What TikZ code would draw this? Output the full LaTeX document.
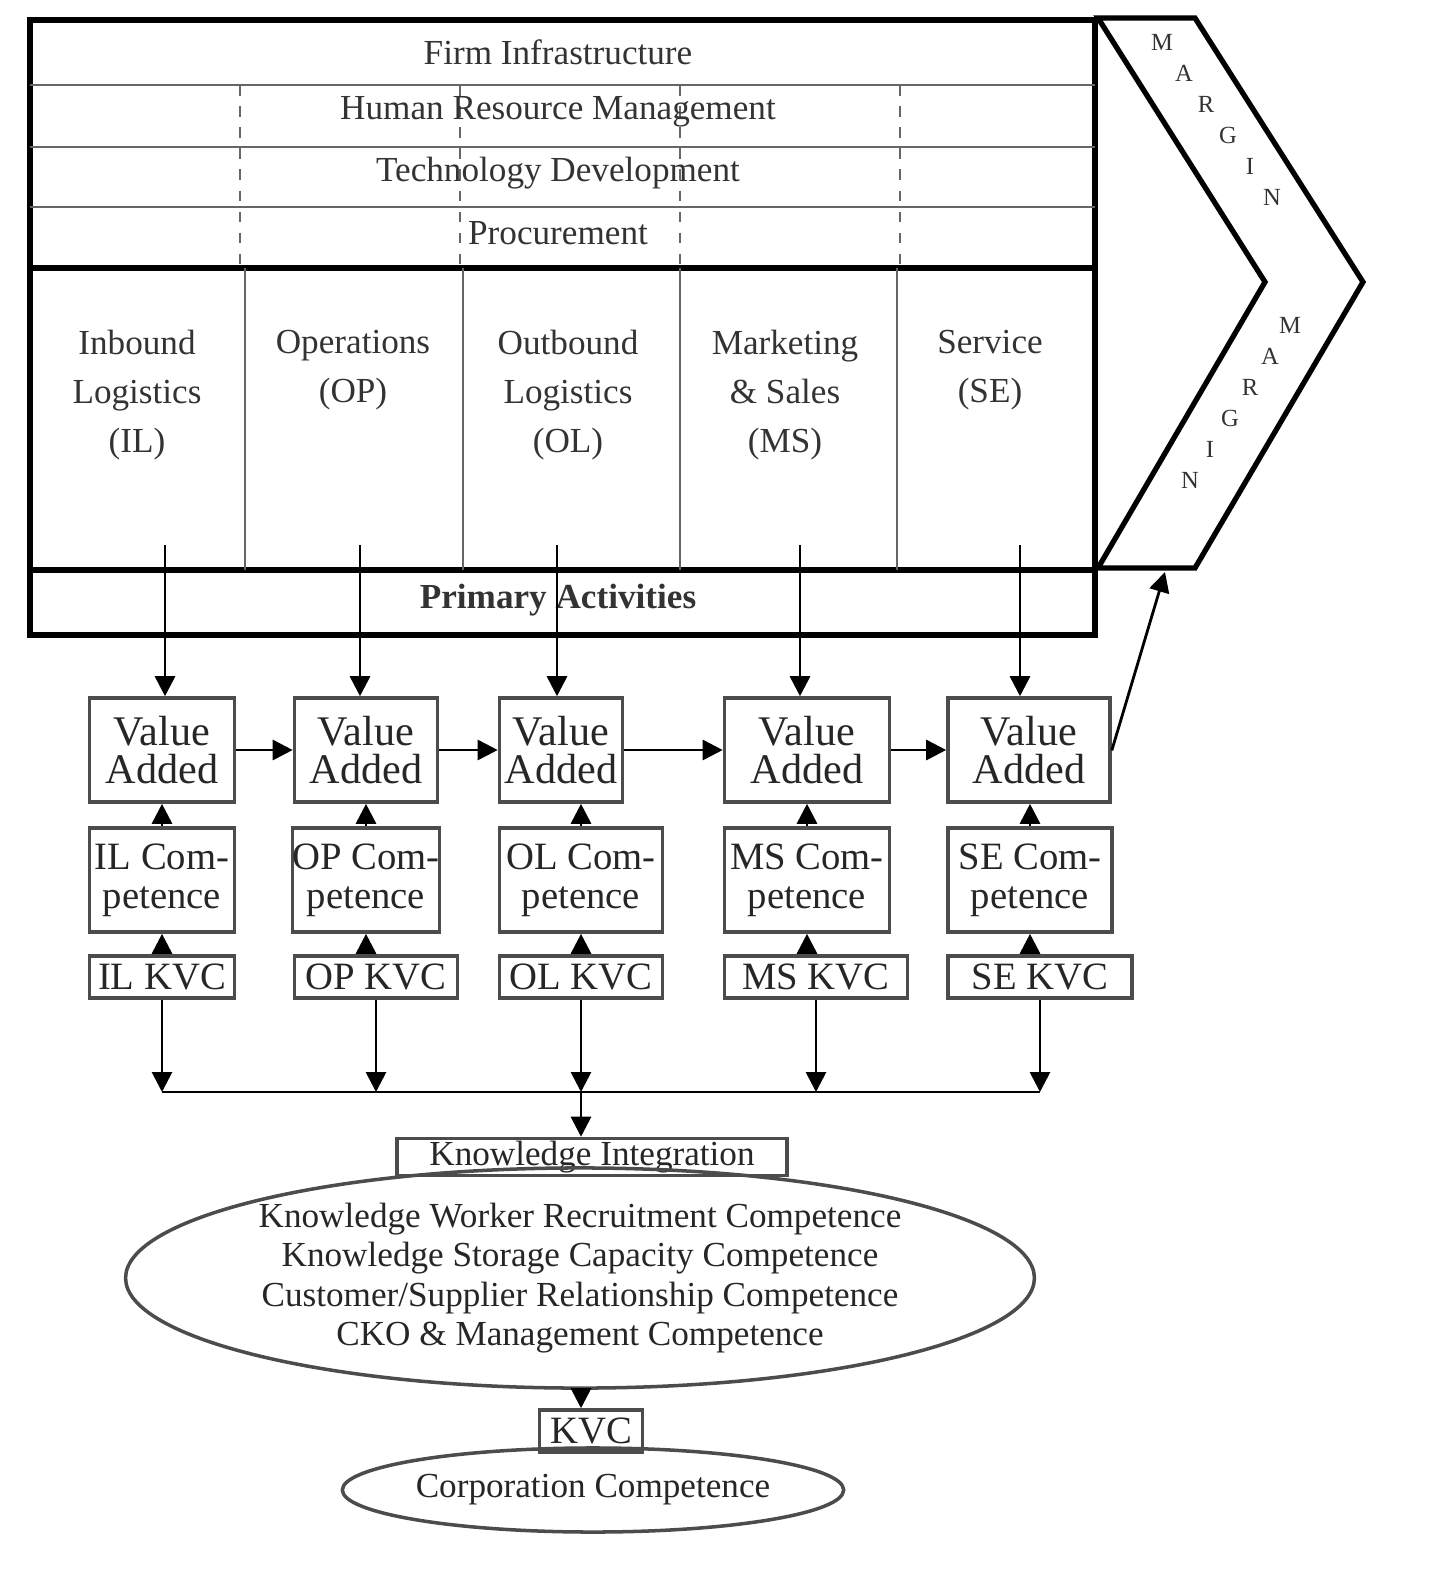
\documentclass[tikz,border=0pt]{standalone}
\usepackage{fontspec}
\setmainfont{Liberation Serif}
\usetikzlibrary{arrows.meta,shapes.geometric,calc}

\tikzset{
	box/.style = {draw = black!70, line width = 1pt, inner sep = 0pt, align = center,
		font = \fontsize{11}{11}\selectfont, text = black!85},
	vabox/.style = {box, font = \fontsize{12}{10.8}\selectfont, minimum height = 1.04cm},
	compbox/.style = {box, minimum height = 1.04cm},
	kvcbox/.style = {box, minimum height = 0.42cm},
	arr/.style = {-{Triangle[length = 2mm, width = 2mm]}, line width = 0.8pt},
	thickline/.style = {line width = 1.5pt},
	thinline/.style = {draw = black!60, line width = 0.8pt},
	lbl/.style = {font = \fontsize{10}{11.5}\selectfont, text = black!80, align = center},
	mletter/.style = {font = \fontsize{7}{7}\selectfont, text = black!80}
}

\begin{document}
\begin{tikzpicture}[x = 0.01cm, y = -0.01cm]
\useasboundingbox (0,0) rectangle (1434,1593);

% Support activities
\draw[thickline] (30,20) rectangle (1095,635);
\foreach \y in {85,147,207} \draw[thinline] (30,\y) -- (1095,\y);
\draw[thickline] (30,268) -- (1095,268);
\draw[thickline] (30,570) -- (1095,570);
\foreach \x in {240,460,680,900} \draw[thinline, dashed] (\x,85) -- (\x,268);
\foreach \x in {245,463,680,897} \draw[thinline] (\x,268) -- (\x,570);

\node[lbl] (FI) at (558,52) {Firm Infrastructure};
\node[lbl] (HR) at (558,112) {Human Resource Management};
\node[lbl] (TD) at (558,173) {Technology Development};
\node[lbl] (PR) at (558,233) {Procurement};

% Primary activities
\node[lbl, font = \fontsize{10}{14}\selectfont] (IL) at (137,395) {Inbound\\Logistics\\(IL)};
\node[lbl, font = \fontsize{10}{14}\selectfont] (OP) at (353,370) {Operations\\(OP)};
\node[lbl, font = \fontsize{10}{14}\selectfont] (OL) at (568,395) {Outbound\\Logistics\\(OL)};
\node[lbl, font = \fontsize{10}{14}\selectfont] (MS) at (785,395) {Marketing\\\& Sales\\(MS)};
\node[lbl, font = \fontsize{10}{14}\selectfont] (SE) at (990,370) {Service\\(SE)};
\node[lbl, font = \bfseries\fontsize{10}{12}\selectfont] (PA) at (558,600) {Primary Activities};

% Margin
\draw[thickline] (1098,18) -- (1195,18) -- (1363,282) -- (1195,568) -- (1098,568)
	-- (1265,282) -- cycle;
\foreach \l [count = \i] in {M,A,R,G,I,N}
	\node[mletter] at ({1162+(\i-1)*22},{42+(\i-1)*31}) {\l};
\foreach \l [count = \i] in {M,A,R,G,I,N}
	\node[mletter] at ({1290-(\i-1)*20},{325+(\i-1)*31}) {\l};

% Value added
\node[vabox, minimum width = 1.45cm] (va1) at (162,750) {Value\\Added};
\node[vabox, minimum width = 1.43cm] (va2) at (366,750) {Value\\Added};
\node[vabox, minimum width = 1.23cm] (va3) at (561,750) {Value\\Added};
\node[vabox, minimum width = 1.65cm] (va4) at (807,750) {Value\\Added};
\node[vabox, minimum width = 1.62cm] (va5) at (1029,750) {Value\\Added};

% Competences
\node[compbox, minimum width = 1.45cm] (c1) at (162,880) {IL Com-\\petence};
\node[compbox, minimum width = 1.43cm] (c2) at (366,880) {OP Com-\\petence};
\node[compbox, minimum width = 1.63cm] (c3) at (581,880) {OL Com-\\petence};
\node[compbox, minimum width = 1.65cm] (c4) at (807,880) {MS Com-\\petence};
\node[compbox, minimum width = 1.64cm] (c5) at (1030,880) {SE Com-\\petence};

% KVCs
\node[kvcbox, minimum width = 1.45cm] (k1) at (162,977) {IL KVC};
\node[kvcbox, minimum width = 1.63cm] (k2) at (376,977) {OP KVC};
\node[kvcbox, minimum width = 1.63cm] (k3) at (581,977) {OL KVC};
\node[kvcbox, minimum width = 1.83cm] (k4) at (816,977) {MS KVC};
\node[kvcbox, minimum width = 1.84cm] (k5) at (1040,977) {SE KVC};

\coordinate (bus) at (0,1092);
\coordinate (mg) at (1165,572);

\node[box, minimum width = 3.9cm, minimum height = 0.37cm, font = \fontsize{10}{10}\selectfont]
	(KI) at (592,1157) {Knowledge Integration};
\node[draw = black!70, line width = 1pt, ellipse, minimum width = 8.8cm, minimum height = 2.2cm,
	align = center, font = \fontsize{10}{11.2}\selectfont, text = black!85, inner sep = 0pt]
	(KE) at (580,1278)
	{Knowledge Worker Recruitment Competence\\Knowledge Storage Capacity Competence\\
	 Customer/Supplier Relationship Competence\\CKO \& Management Competence};
\node[box, minimum width = 1.03cm, minimum height = 0.42cm] (KVC) at (591,1431) {KVC};
\node[draw = black!70, line width = 1pt, ellipse, minimum width = 4.7cm, minimum height = 0.84cm,
	inner sep = 0pt, text = black!85, font = \fontsize{10}{10}\selectfont] (CC) at (593,1490)
	{Corporation Competence};

% arrows from primary activities
\foreach \x/\n in {165/1,360/2,557/3,800/4,1020/5}
	\draw[arr] (\x,545) -- (\x,545 |- va\n.north);
\draw[arr] (va1) -- (va2);
\draw[arr] (va2) -- (va3);
\draw[arr] (va3) -- (va4);
\draw[arr] (va4) -- (va5);
\draw[arr] (va5.east) ++(0,0.4) -- (mg);
\foreach \n in {1,...,5} {
	\draw[arr] (c\n.north) -- (c\n.north |- va\n.south);
	\draw[arr] (k\n.north -| c\n.north) -- (c\n.south);
	\draw[arr] (k\n.south) -- (k\n.south |- bus);
}
\draw[thinline, draw = black] (k1.south |- bus) -- (k5.south |- bus);
\draw[arr] (k3.south |- bus) -- (KI.north -| k3.south);
\draw[arr] (KE.south -| k3.south) -- (KVC.north -| k3.south);
\end{tikzpicture}
\end{document}
